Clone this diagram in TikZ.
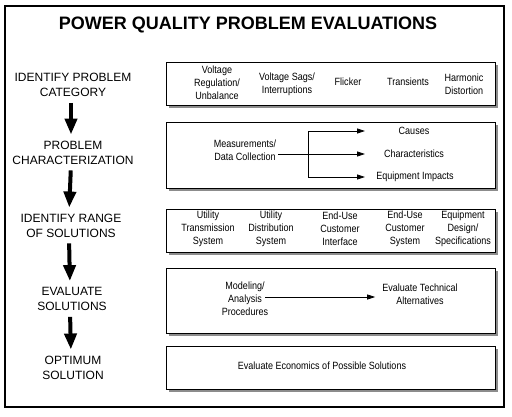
\documentclass[tikz,border=0pt]{standalone}
\usepackage{fontspec}
\setmainfont{Liberation Sans}
\newfontfamily\narrowfont[FakeStretch=0.86]{Liberation Sans}
\usetikzlibrary{arrows.meta,shadows}

\begin{document}
\begin{tikzpicture}[x=1pt,y=-1pt,
  stage/.style={align=center,inner sep=0pt,font=\fontsize{12}{15}\selectfont},
  panel/.style={draw,fill=white,line width=0.8pt,minimum width=329pt,
    drop shadow={shadow xshift=3pt,shadow yshift=-3pt,fill=black!45,opacity=1}},
  item/.style={align=center,inner sep=0pt,font=\narrowfont\fontsize{10.5}{13}\selectfont},
  down/.style={line width=4pt,-{Triangle[width=12pt,length=16pt]},shorten <=6pt,shorten >=6pt},
  link/.style={line width=0.8pt,-{Triangle[width=5pt,length=8pt]}}]
\useasboundingbox (0,0) rectangle (512,416);
\draw[line width=1.5pt] (5,6) rectangle (504,407);
\node[font=\fontsize{18}{20}\selectfont\bfseries] (title) at (248,25) {POWER QUALITY PROBLEM EVALUATIONS};

% stages on the left
\node[stage] (s1) at (73,85)    {IDENTIFY PROBLEM\\CATEGORY};
\node[stage] (s2) at (73,152.5) {PROBLEM\\CHARACTERIZATION};
\node[stage] (s3) at (71,225.5) {IDENTIFY RANGE\\OF SOLUTIONS};
\node[stage] (s4) at (72,299)   {EVALUATE\\SOLUTIONS};
\node[stage] (s5) at (73,367.5) {OPTIMUM\\SOLUTION};
\foreach \a/\b in {s1/s2,s2/s3,s3/s4,s4/s5}
  \draw[down] ([xshift=-2pt]\a.south) -- ([xshift=-2pt]\b.north);

% panels
\node[panel,minimum height=43pt] (p1) at (330.5,83.5)  {};
\node[panel,minimum height=66pt] (p2) at (330.5,155)   {};
\node[panel,minimum height=43pt] (p3) at (330.5,230.5) {};
\node[panel,minimum height=65pt] (p4) at (330.5,300.5) {};
\node[panel,minimum height=43pt] (p5) at (330.5,367.5) {};

% problem categories
\node[item] (vr) at (217,83) {Voltage\\Regulation/\\Unbalance};
\node[item] (vs) at (287,84) {Voltage Sags/\\Interruptions};
\node[item] (fl) at (348,82) {Flicker};
\node[item] (tr) at (408,82) {Transients};
\node[item] (hd) at (464,84) {Harmonic\\Distortion};

% characterization
\node[item] (meas) at (245,150.5) {Measurements/\\Data Collection};
\coordinate (split) at (308,154);
\coordinate (tip) at (365,154);
\node[item] (cau) at (414,131) {Causes};
\node[item] (cha) at (414,154) {Characteristics};
\node[item] (eqi) at (415,177) {Equipment Impacts};
\draw[line width=0.8pt] (split |- cau) -- (split |- eqi);
\draw[link,shorten <=2pt] (meas.east |- tip) -- (tip);
\draw[link] (split |- cau) -- (tip |- cau);
\draw[link] (split |- eqi) -- (tip |- eqi);

% range of solutions
\node[item] (uts) at (208,229) {Utility\\Transmission\\System};
\node[item] (uds) at (271,229) {Utility\\Distribution\\System};
\node[item] (eci) at (340,229) {End-Use\\Customer\\Interface};
\node[item] (ecs) at (405,229) {End-Use\\Customer\\System};
\node[item] (eds) at (463,229) {Equipment\\Design/\\Specifications};

% evaluate
\node[item] (mod) at (245,298.5) {Modeling/\\Analysis\\Procedures};
\node[item] (evt) at (420,294) {Evaluate Technical\\Alternatives};
\draw[link,shorten <=-3pt,shorten >=7pt] (mod.east |- 0,297) -- (evt.west |- 0,297);

% optimum
\node[item] (eco) at (322,366) {Evaluate Economics of Possible Solutions};
\end{tikzpicture}
\end{document}
